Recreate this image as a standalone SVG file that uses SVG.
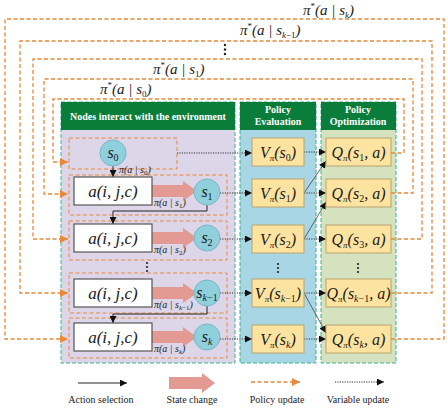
<svg xmlns="http://www.w3.org/2000/svg" width="448" height="409" viewBox="0 0 448 409">
<defs>
<style>
.m{font-family:"Liberation Serif","Times New Roman",serif;font-style:italic;fill:#1a1a1a}
.hd{font-family:"Liberation Serif","Times New Roman",serif;font-weight:bold;font-size:10px;fill:#fff;text-anchor:middle}
.lg{font-family:"Liberation Serif","Times New Roman",serif;font-size:10px;fill:#222;text-anchor:middle}
.up{font-style:normal}
.loop{fill:none;stroke:#e8883a;stroke-width:1.3;stroke-dasharray:4 2.5}
.ibox{fill:none;stroke:#e8883a;stroke-width:1;stroke-dasharray:4 2.5}
.act{fill:none;stroke:#222;stroke-width:1}
.var{fill:none;stroke:#333;stroke-width:1;stroke-dasharray:1.2 1.2}
.diag{fill:none;stroke:#444;stroke-width:0.8}
.abox{fill:#fff;stroke:#555;stroke-width:1.2}
.circ{fill:#8fd0dc;stroke:#79b7c6;stroke-width:1}
.vq{fill:#fde3a0;stroke:#b9a16e;stroke-width:1}
.pink{fill:#e39a93}
.pan{stroke:#3cb48c;stroke-width:1;stroke-dasharray:4 2}
.hdr{fill:#0a7d3a}
</style>
<marker id="ab" viewBox="0 0 10 10" refX="10" refY="5" markerWidth="7" markerHeight="7" markerUnits="userSpaceOnUse" orient="auto"><path d="M0,0L10,5L0,10z" fill="#111"/></marker>
<marker id="ao" viewBox="0 0 10 10" refX="10" refY="5" markerWidth="8" markerHeight="8" markerUnits="userSpaceOnUse" orient="auto"><path d="M0,0L10,5L0,10z" fill="#e8883a"/></marker>
</defs>
<rect width="448" height="409" fill="#fff"/>

<!-- panels -->
<g id="panel-env">
<rect class="pan" x="61" y="102" width="174" height="261" fill="#dcd6e8"/>
<rect class="hdr" x="61" y="102" width="174" height="28"/>
<text class="hd" x="148" y="120">Nodes interact with the environment</text>
</g>
<g id="panel-eval">
<rect class="pan" x="240" y="102" width="76" height="261" fill="#a9d6e5"/>
<rect class="hdr" x="240" y="102" width="76" height="28"/>
<text class="hd" x="278" y="113">Policy</text>
<text class="hd" x="278" y="125">Evaluation</text>
</g>
<g id="panel-opt">
<rect class="pan" x="321" y="102" width="75" height="261" fill="#d5e2bf"/>
<rect class="hdr" x="321" y="102" width="75" height="28"/>
<text class="hd" x="358" y="113">Policy</text>
<text class="hd" x="358" y="125">Optimization</text>
</g>

<!-- inner dashed boxes -->
<g id="inner-boxes">
<rect class="ibox" x="69" y="138" width="108" height="31"/>
<rect class="ibox" x="69" y="175" width="158" height="40"/>
<rect class="ibox" x="69" y="221" width="158" height="39"/>
<rect class="ibox" x="69" y="273" width="158" height="40"/>
<rect class="ibox" x="69" y="318" width="158" height="40"/>
</g>

<!-- connectors -->
<g id="connectors">
<path class="loop" d="M391,153H404V99H53V162H68" marker-end="url(#ao)"/>
<path class="loop" d="M391,193H413V79H44V194H68" marker-end="url(#ao)"/>
<path class="loop" d="M391,239H422V59H33V239H68" marker-end="url(#ao)"/>
<path class="loop" d="M391,293H432V41H20V293H68" marker-end="url(#ao)"/>
<path class="loop" d="M391,339H444V19H5V339H68" marker-end="url(#ao)"/>

<path class="act" d="M113,166V177" marker-end="url(#ab)"/>
<path class="act" d="M207,205V211H113V224" marker-end="url(#ab)"/>
<path class="act" d="M207,306V314H113V323" marker-end="url(#ab)"/>

<path class="pink" d="M152,185H183V181L197,191L183,201V197H152Z"/>
<path class="pink" d="M152,232H183V228L197,238L183,248V244H152Z"/>
<path class="pink" d="M152,287H183V283L197,293L183,303V299H152Z"/>
<path class="pink" d="M152,331H183V327L197,337L183,347V343H152Z"/>

<path class="var" d="M177,153H252" marker-end="url(#ab)"/>
<path class="var" d="M220,193H252" marker-end="url(#ab)"/>
<path class="var" d="M220,239H252" marker-end="url(#ab)"/>
<path class="var" d="M220,293H252" marker-end="url(#ab)"/>
<path class="var" d="M220,339H252" marker-end="url(#ab)"/>

<path class="var" d="M304,152H326" marker-end="url(#ab)"/>
<path class="var" d="M304,193H326" marker-end="url(#ab)"/>
<path class="var" d="M304,239H326" marker-end="url(#ab)"/>
<path class="var" d="M304,293H326" marker-end="url(#ab)"/>
<path class="var" d="M304,339H326" marker-end="url(#ab)"/>

<path class="diag" d="M304,193L326,161" marker-end="url(#ab)"/>
<path class="diag" d="M304,239L326,202" marker-end="url(#ab)"/>
<path class="diag" d="M304,293L326,333" marker-end="url(#ab)"/>
</g>

<!-- policy labels -->
<g id="policy-labels">
<text class="m" x="303" y="15" font-size="15">π<tspan dy="-6" font-size="9" class="up">*</tspan><tspan dy="6">(a | s</tspan><tspan dy="3" font-size="9">k</tspan><tspan dy="-3">)</tspan></text>
<text class="m" x="240" y="35" font-size="15">π<tspan dy="-6" font-size="9" class="up">*</tspan><tspan dy="6">(a | s</tspan><tspan dy="3" font-size="9">k</tspan><tspan font-size="9" class="up">−1</tspan><tspan dy="-3">)</tspan></text>
<circle cx="225" cy="45" r="1.2" fill="#222"/><circle cx="225" cy="49.5" r="1.2" fill="#222"/><circle cx="225" cy="54" r="1.2" fill="#222"/>
<text class="m" x="153" y="74" font-size="15">π<tspan dy="-6" font-size="9" class="up">*</tspan><tspan dy="6">(a | s</tspan><tspan dy="3" font-size="9" class="up">1</tspan><tspan dy="-3">)</tspan></text>
<text class="m" x="100" y="94" font-size="15">π<tspan dy="-6" font-size="9" class="up">*</tspan><tspan dy="6">(a | s</tspan><tspan dy="3" font-size="9" class="up">0</tspan><tspan dy="-3">)</tspan></text>
</g>

<!-- states -->
<g id="s0"><circle class="circ" cx="113" cy="153" r="13"/><text class="m" x="113" y="158" font-size="16" text-anchor="middle">s<tspan dy="3" font-size="10" class="up">0</tspan></text></g>
<g id="s1"><circle class="circ" cx="207" cy="192" r="13"/><text class="m" x="207" y="197" font-size="16" text-anchor="middle">s<tspan dy="3" font-size="10" class="up">1</tspan></text></g>
<g id="s2"><circle class="circ" cx="207" cy="238" r="13"/><text class="m" x="207" y="243" font-size="16" text-anchor="middle">s<tspan dy="3" font-size="10" class="up">2</tspan></text></g>
<g id="sk1"><circle class="circ" cx="207" cy="293" r="13"/><text class="m" x="207" y="298" font-size="16" text-anchor="middle">s<tspan dy="3" font-size="10">k</tspan><tspan font-size="10" class="up">−1</tspan></text></g>
<g id="sk"><circle class="circ" cx="207" cy="337" r="13"/><text class="m" x="207" y="342" font-size="16" text-anchor="middle">s<tspan dy="3" font-size="10">k</tspan></text></g>

<!-- actions -->
<g id="a1"><rect class="abox" x="74" y="177" width="78" height="28"/><text class="m" x="113" y="197" font-size="17" text-anchor="middle">a(i, j,c)</text></g>
<g id="a2"><rect class="abox" x="74" y="224" width="78" height="28"/><text class="m" x="113" y="244" font-size="17" text-anchor="middle">a(i, j,c)</text></g>
<g id="ak1"><rect class="abox" x="74" y="279" width="78" height="28"/><text class="m" x="113" y="299" font-size="17" text-anchor="middle">a(i, j,c)</text></g>
<g id="ak"><rect class="abox" x="74" y="323" width="78" height="28"/><text class="m" x="113" y="343" font-size="17" text-anchor="middle">a(i, j,c)</text></g>

<!-- pi labels -->
<g id="pi-labels">
<text class="m" x="119" y="173" font-size="10">π(a | s<tspan dy="2" font-size="7" class="up">0</tspan><tspan dy="-2">)</tspan></text>
<text class="m" x="154" y="206" font-size="10">π(a | s<tspan dy="2" font-size="7" class="up">1</tspan><tspan dy="-2">)</tspan></text>
<text class="m" x="154" y="253" font-size="10">π(a | s<tspan dy="2" font-size="7" class="up">2</tspan><tspan dy="-2">)</tspan></text>
<text class="m" x="154" y="308" font-size="10">π(a | s<tspan dy="2" font-size="7">k</tspan><tspan font-size="7" class="up">−1</tspan><tspan dy="-2">)</tspan></text>
<text class="m" x="154" y="352" font-size="10">π(a | s<tspan dy="2" font-size="7">k</tspan><tspan dy="-2">)</tspan></text>
</g>
<g id="dots-env"><circle cx="147" cy="263" r="1.1" fill="#222"/><circle cx="147" cy="267" r="1.1" fill="#222"/><circle cx="147" cy="271" r="1.1" fill="#222"/></g>

<!-- V boxes -->
<g id="v0"><rect class="vq" x="252" y="138" width="52" height="28"/><text class="m" x="278" y="158" font-size="16" text-anchor="middle">V<tspan dy="3" font-size="9">π</tspan><tspan dy="-3">(s</tspan><tspan dy="3" font-size="10" class="up">0</tspan><tspan dy="-3">)</tspan></text></g>
<g id="v1"><rect class="vq" x="252" y="179" width="52" height="28"/><text class="m" x="278" y="199" font-size="16" text-anchor="middle">V<tspan dy="3" font-size="9">π</tspan><tspan dy="-3">(s</tspan><tspan dy="3" font-size="10" class="up">1</tspan><tspan dy="-3">)</tspan></text></g>
<g id="v2"><rect class="vq" x="252" y="225" width="52" height="28"/><text class="m" x="278" y="245" font-size="16" text-anchor="middle">V<tspan dy="3" font-size="9">π</tspan><tspan dy="-3">(s</tspan><tspan dy="3" font-size="10" class="up">2</tspan><tspan dy="-3">)</tspan></text></g>
<g id="vk1"><rect class="vq" x="252" y="279" width="52" height="28"/><text class="m" x="278" y="299" font-size="16" text-anchor="middle">V<tspan dy="3" font-size="9">π</tspan><tspan dy="-3">(s</tspan><tspan dy="3" font-size="10">k</tspan><tspan font-size="10" class="up">−1</tspan><tspan dy="-3">)</tspan></text></g>
<g id="vk"><rect class="vq" x="252" y="325" width="52" height="28"/><text class="m" x="278" y="345" font-size="16" text-anchor="middle">V<tspan dy="3" font-size="9">π</tspan><tspan dy="-3">(s</tspan><tspan dy="3" font-size="10">k</tspan><tspan dy="-3">)</tspan></text></g>
<g id="dots-v"><circle cx="278" cy="264" r="1.1" fill="#222"/><circle cx="278" cy="268" r="1.1" fill="#222"/><circle cx="278" cy="272" r="1.1" fill="#222"/></g>

<!-- Q boxes -->
<g id="q1"><rect class="vq" x="326" y="138" width="65" height="28"/><text class="m" x="358.5" y="158" font-size="16" text-anchor="middle">Q<tspan dy="3" font-size="9">π</tspan><tspan dy="-3">(s</tspan><tspan dy="3" font-size="10" class="up">1</tspan><tspan dy="-3">, a)</tspan></text></g>
<g id="q2"><rect class="vq" x="326" y="179" width="65" height="28"/><text class="m" x="358.5" y="199" font-size="16" text-anchor="middle">Q<tspan dy="3" font-size="9">π</tspan><tspan dy="-3">(s</tspan><tspan dy="3" font-size="10" class="up">2</tspan><tspan dy="-3">, a)</tspan></text></g>
<g id="q3"><rect class="vq" x="326" y="225" width="65" height="28"/><text class="m" x="358.5" y="245" font-size="16" text-anchor="middle">Q<tspan dy="3" font-size="9">π</tspan><tspan dy="-3">(s</tspan><tspan dy="3" font-size="10" class="up">3</tspan><tspan dy="-3">, a)</tspan></text></g>
<g id="qk1"><rect class="vq" x="326" y="279" width="65" height="28"/><text class="m" x="358.5" y="299" font-size="16" text-anchor="middle">Q<tspan dy="3" font-size="9">π</tspan><tspan dy="-3">(s</tspan><tspan dy="3" font-size="10">k</tspan><tspan font-size="10" class="up">−1</tspan><tspan dy="-3">, a)</tspan></text></g>
<g id="qk"><rect class="vq" x="326" y="325" width="65" height="28"/><text class="m" x="358.5" y="345" font-size="16" text-anchor="middle">Q<tspan dy="3" font-size="9">π</tspan><tspan dy="-3">(s</tspan><tspan dy="3" font-size="10">k</tspan><tspan dy="-3">, a)</tspan></text></g>
<g id="dots-q"><circle cx="358" cy="264" r="1.1" fill="#222"/><circle cx="358" cy="268" r="1.1" fill="#222"/><circle cx="358" cy="272" r="1.1" fill="#222"/></g>

<!-- legend -->
<g id="legend">
<path class="act" d="M78,383H127" marker-end="url(#ab)"/>
<text class="lg" x="101" y="403">Action selection</text>
<path class="pink" d="M169,377H202V373L215,383L202,393V389H169Z"/>
<text class="lg" x="192" y="403">State change</text>
<path class="loop" d="M251,382H300" marker-end="url(#ao)"/>
<text class="lg" x="277" y="403">Policy update</text>
<path class="var" d="M335,382H384" marker-end="url(#ab)"/>
<text class="lg" x="358" y="403">Variable update</text>
</g>
</svg>
